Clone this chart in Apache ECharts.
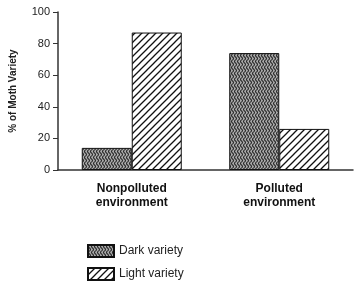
<!DOCTYPE html>
<html><head><meta charset="utf-8">
<script src="https://cdn.jsdelivr.net/npm/echarts@6/dist/echarts.min.js"></script>
<style>html,body{margin:0;padding:0;background:#fff}#c{width:356px;height:285px}</style>
</head><body><div id="c"></div>
<script>
const categories = ['Nonpolluted\nenvironment', 'Polluted\nenvironment'];
const darkValues = [14, 74];
const lightValues = [87, 26];
const yTicks = [0, 20, 40, 60, 80, 100];
const seriesNames = ['Dark variety', 'Light variety'];

function darkPattern() {
  const c = document.createElement('canvas'); c.width = 6; c.height = 6;
  const g = c.getContext('2d');
  g.fillStyle = '#a8a8a8'; g.fillRect(0, 0, 6, 6);
  g.strokeStyle = '#2a2a2a'; g.lineWidth = 1.1;
  g.beginPath();
  g.moveTo(1.5, 0); g.quadraticCurveTo(-0.5, 1.5, 1.5, 3); g.quadraticCurveTo(3.5, 4.5, 1.5, 6);
  g.moveTo(4.5, 0); g.quadraticCurveTo(2.5, 1.5, 4.5, 3); g.quadraticCurveTo(6.5, 4.5, 4.5, 6);
  g.stroke();
  return c;
}
function lightPattern() {
  const c = document.createElement('canvas'); c.width = 7; c.height = 7;
  const g = c.getContext('2d');
  g.fillStyle = '#fff'; g.fillRect(0, 0, 7, 7);
  g.strokeStyle = '#111'; g.lineWidth = 1.3;
  g.beginPath();
  g.moveTo(-1, 8); g.lineTo(8, -1);
  g.moveTo(-1, 1); g.lineTo(1, -1);
  g.moveTo(6, 8); g.lineTo(8, 6);
  g.stroke();
  return c;
}

const legendBase = { orient: 'vertical', left: 82, itemWidth: 26, itemHeight: 12, icon: 'rect',
  textStyle: { fontSize: 12, color: '#222' } };

const chart = echarts.init(document.getElementById('c'));
chart.setOption({
  animation: false,
  textStyle: { fontFamily: 'Liberation Sans' },
  grid: { left: 58, right: 3, top: 12, bottom: 115, containLabel: false },
  legend: [
    Object.assign({}, legendBase, { top: 239, data: [seriesNames[0]] }),
    Object.assign({}, legendBase, { top: 262, data: [seriesNames[1]] })
  ],
  xAxis: {
    type: 'category', data: categories,
    axisLine: { lineStyle: { color: '#333', width: 1.5 } },
    axisTick: { show: false },
    axisLabel: { color: '#111', fontWeight: 'bold', fontSize: 12, lineHeight: 14, margin: 12 }
  },
  yAxis: {
    type: 'value', min: 0, max: 100, interval: 20,
    name: '% of Moth Variety', nameLocation: 'middle', nameGap: 40, nameRotate: 90,
    nameTextStyle: { fontWeight: 'bold', fontSize: 10, color: '#222' },
    axisLine: { show: true, lineStyle: { color: '#333', width: 1.5 } },
    axisTick: { show: true, length: 5, lineStyle: { color: '#333' } },
    splitLine: { show: false },
    axisLabel: { color: '#222', fontSize: 11, margin: 8,
      formatter: v => yTicks.includes(v) ? String(v) : '' }
  },
  series: [
    { name: seriesNames[0], type: 'bar', data: darkValues, barWidth: 50, barGap: '0%',
      itemStyle: { color: { image: darkPattern(), repeat: 'repeat' }, borderColor: '#111', borderWidth: 1 } },
    { name: seriesNames[1], type: 'bar', data: lightValues, barWidth: 50,
      itemStyle: { color: { image: lightPattern(), repeat: 'repeat' }, borderColor: '#111', borderWidth: 1 } }
  ]
});
</script></body></html>
